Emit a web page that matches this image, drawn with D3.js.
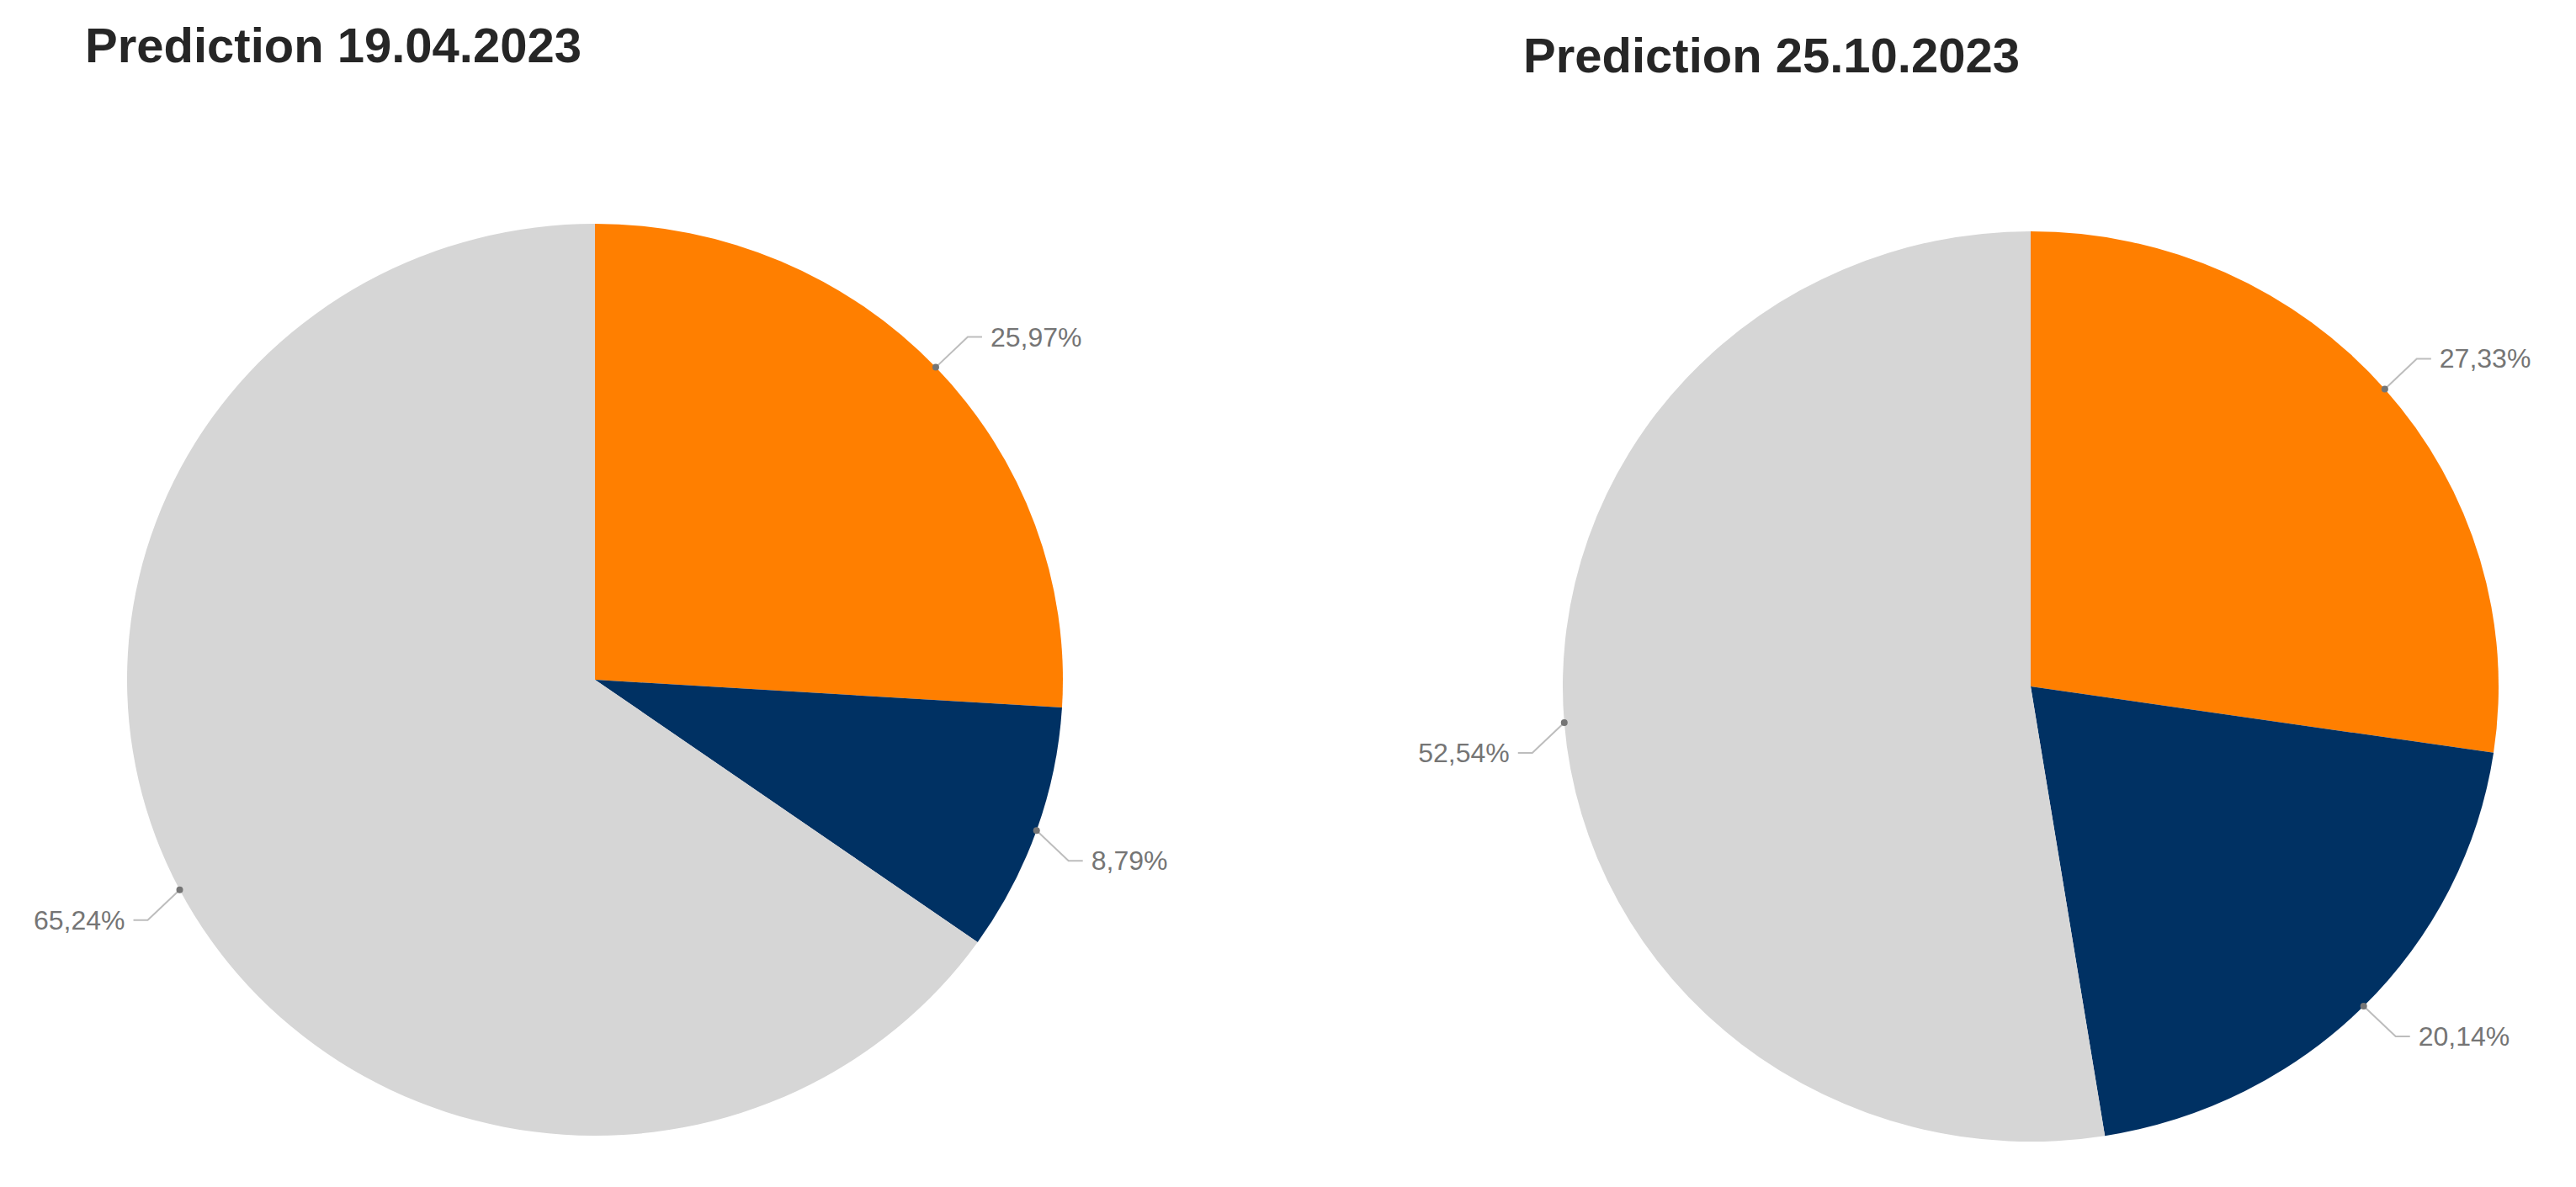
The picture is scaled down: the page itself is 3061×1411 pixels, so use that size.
<!DOCTYPE html>
<html>
<head>
<meta charset="utf-8">
<script src="https://cdn.jsdelivr.net/npm/d3@7"></script>
<style>
  html, body { margin: 0; padding: 0; background: #fff; }
  svg { display: block; }
</style>
</head>
<body>
<svg id="chart" width="3061" height="1411"></svg>
<script>
const categories = ["Segment A", "Segment B", "Segment C"];
const colors = ["#FF7F00", "#003163", "#D6D6D6"];
const titles = ["Prediction 19.04.2023", "Prediction 25.10.2023"];
const values1 = [25.97, 8.79, 65.24];
const values2 = [27.33, 20.14, 52.54];
const labels1 = ["25,97%", "8,79%", "65,24%"];
const labels2 = ["27,33%", "20,14%", "52,54%"];

const svg = d3.select("#chart");

const charts = [
  { title: titles[0], values: values1, labels: labels1, cx: 707, cy: 808, rx: 556, ry: 542, tx: 101, ty: 74 },
  { title: titles[1], values: values2, labels: labels2, cx: 2413, cy: 816, rx: 556, ry: 541, tx: 1810, ty: 86 }
];

const pie = d3.pie().sort(null).value(d => d.value);

charts.forEach(c => {
  svg.append("text")
    .attr("x", c.tx).attr("y", c.ty)
    .attr("font-family", "'Liberation Sans', Arial, sans-serif")
    .attr("font-weight", "bold")
    .attr("font-size", 58)
    .attr("fill", "#262626")
    .text(c.title);

  const data = categories.map((k, i) => ({ key: k, value: c.values[i], label: c.labels[i], color: colors[i] }));
  const arcs = pie(data);
  const arc = d3.arc().innerRadius(0).outerRadius(c.ry);
  const edge = d3.arc().innerRadius(c.ry).outerRadius(c.ry);
  const sx = c.rx / c.ry;

  const g = svg.append("g").attr("transform", `translate(${c.cx},${c.cy}) scale(${sx},1)`);
  g.selectAll("path").data(arcs).enter().append("path")
    .attr("d", arc)
    .attr("fill", d => d.data.color);

  const lg = svg.append("g").attr("transform", `translate(${c.cx},${c.cy})`);
  arcs.forEach(a => {
    const p = edge.centroid(a);
    const x0 = p[0] * sx, y0 = p[1];
    const dirX = x0 >= 0 ? 1 : -1;
    const dirY = y0 >= 0 ? 1 : -1;
    const x1 = x0 + dirX * 38, y1 = y0 + dirY * 36;
    const x2 = x1 + dirX * 17;
    lg.append("polyline")
      .attr("points", `${x0},${y0} ${x1},${y1} ${x2},${y1}`)
      .attr("fill", "none")
      .attr("stroke", "#BDBDBD")
      .attr("stroke-width", 2);
    lg.append("circle")
      .attr("cx", x0).attr("cy", y0).attr("r", 4)
      .attr("fill", "#757575");
    lg.append("text")
      .attr("x", x2 + dirX * 10)
      .attr("y", y1 + 11)
      .attr("text-anchor", dirX > 0 ? "start" : "end")
      .attr("font-family", "'Liberation Sans', Arial, sans-serif")
      .attr("font-size", 32)
      .attr("fill", "#757575")
      .text(a.data.label);
  });
});
</script>
</body>
</html>
